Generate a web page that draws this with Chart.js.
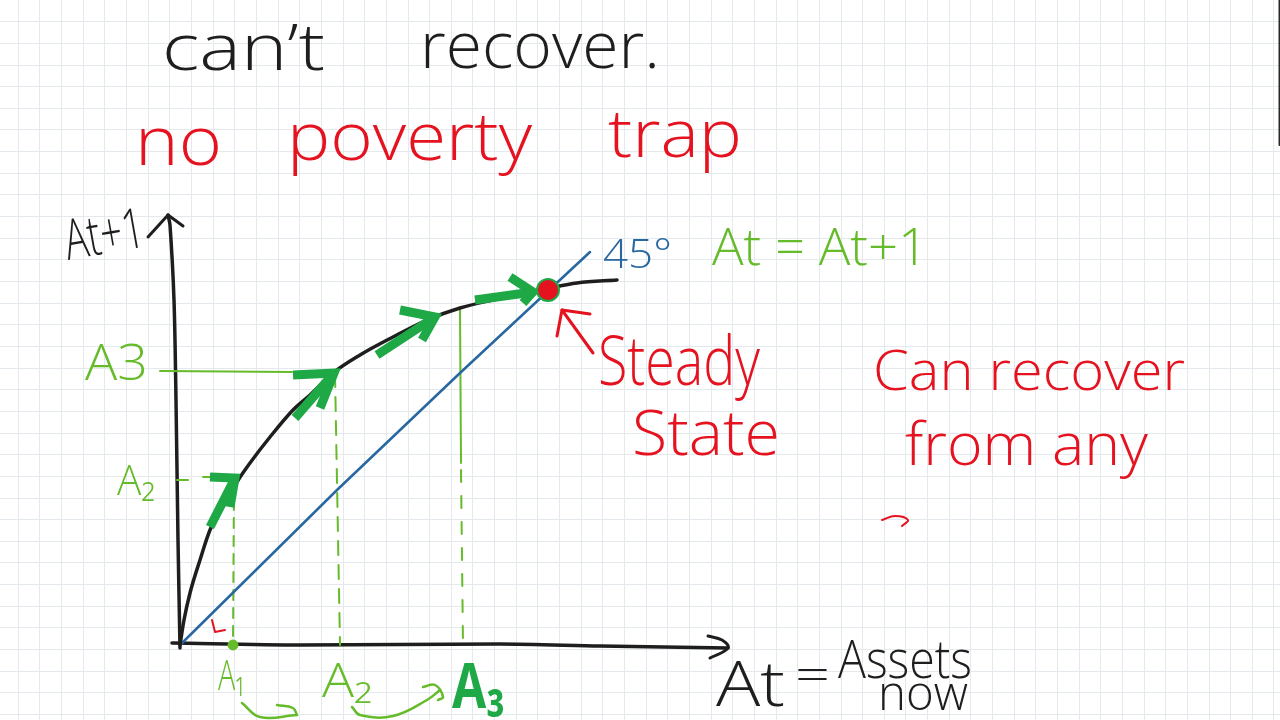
<!DOCTYPE html>
<html lang="en">
<head>
    <meta charset="UTF-8">
    <meta name="viewport" content="width=device-width, initial-scale=1.0">
    <title>No poverty trap</title>
    <style>
        body {
            margin: 0;
            background: #fff;
        }
        #wrap {
            width: 1280px;
            height: 720px;
            position: relative;
        }
    </style>
</head>
<body>
    <div id="wrap"><canvas id="chart"></canvas></div>
    <script src="https://cdn.jsdelivr.net/npm/chart.js"></script>
    <script>
        // units: distance right of / above the origin of the drawn axes
        // A(t+1) as a function of A(t) - the black curve
        const curveX = [0, 4, 10, 20, 30, 47, 57, 70, 90, 113, 130, 153, 180, 213, 247, 280, 313, 347, 370, 397, 437];
        const curveY = [0, 25, 52, 85, 115, 145, 163, 182, 208, 235, 250, 272, 290, 308, 325, 337, 345, 352, 357, 362, 365];

        // 45 degree line
        const lineX = [0, 157, 280, 410];
        const lineY = [0, 155, 272, 393];

        // steady state
        const steadyX = [368];
        const steadyY = [355];

        // A1, A2, A3 on the horizontal axis and where they hit the curve
        const stepX = [54, 155, 280];
        const stepY = [163, 272, 337];
        const xTickLabels = ['A₁', 'A₂', 'A₃'];
        const yTickLabels = ['A3', 'A₂'];

        // green arrows along the curve: shaft start, tip, two barb ends
        const arrowStartX = [30, 115, 197, 295];
        const arrowStartY = [118, 227, 290, 345];
        const arrowTipX = [55, 154, 255, 353];
        const arrowTipY = [167, 272, 328, 353];
        const barbAX = [30, 113, 220, 330];
        const barbAY = [168, 270, 335, 368];
        const barbBX = [50, 140, 242, 343];
        const barbBY = [138, 237, 305, 342];

        const RED = '#e5121f';
        const BLACK = '#1e1e1e';
        const BLUE = '#2867a0';
        const LIME = '#66bb2a';
        const GREEN = '#1fa846';

        // graph paper
        const gridX = [];
        for (let k = 0; k < 60; k++) gridX.push(18.3 + k * 21.65 - 180);
        const gridY = [];
        for (let k = 0; k < 34; k++) gridY.push(645 - (21.7 + k * 21.65));

        function pts(xs, ys) {
            return xs.map((x, i) => ({ x: x, y: ys[i] }));
        }

        function stroke(xs, ys, color, width, extra) {
            return Object.assign({
                data: pts(xs, ys),
                showLine: true,
                borderColor: color,
                backgroundColor: color,
                borderWidth: width,
                pointRadius: 0,
                borderCapStyle: 'round',
                borderJoinStyle: 'round',
                fill: false
            }, extra || {});
        }

        const datasets = [];

        // steady state dot
        datasets.push({
            data: pts(steadyX, steadyY),
            showLine: false,
            pointRadius: 11,
            backgroundColor: RED,
            borderColor: GREEN,
            borderWidth: 2
        });

        // thick green arrows
        arrowTipX.forEach((tx, i) => {
            const ty = arrowTipY[i];
            datasets.push(stroke([arrowStartX[i], tx], [arrowStartY[i], ty], GREEN, 9, { borderCapStyle: 'butt' }));
            datasets.push(stroke([barbAX[i], tx, barbBX[i]], [barbAY[i], ty, barbBY[i]], GREEN, 9,
                { borderCapStyle: 'butt', borderJoinStyle: 'miter' }));
        });

        // curve and 45 degree line
        datasets.push(stroke(curveX, curveY, BLACK, 3.5, { cubicInterpolationMode: 'monotone' }));
        datasets.push(stroke(lineX, lineY, BLUE, 2.5));

        // guides from A1, A2, A3
        datasets.push(stroke([stepX[0], stepX[0] - 1], [stepY[0], 0], LIME, 2, { borderDash: [10, 8] }));
        datasets.push(stroke([stepX[1], stepX[1] + 5], [stepY[1], 0], LIME, 2, { borderDash: [14, 10] }));
        datasets.push(stroke([stepX[2], stepX[2] + 1], [stepY[2], 182], LIME, 2));
        datasets.push(stroke([stepX[2] + 1, stepX[2] + 3], [175, 0], LIME, 2, { borderDash: [12, 14] }));
        datasets.push(stroke([-20, 112], [274, 273], LIME, 2));
        datasets.push(stroke([133, 147], [273, 273], LIME, 2));
        datasets.push(stroke([-3, 8], [165, 165], LIME, 2));
        datasets.push(stroke([23, 55], [168, 168], LIME, 2));
        datasets.push({
            data: pts([stepX[0] - 1], [0]),
            showLine: false,
            pointRadius: 5,
            backgroundColor: LIME,
            borderColor: LIME
        });

        // curly arrows under the axis
        datasets.push(stroke([62, 80, 117], [-58, -72, -70], LIME, 2.5, { tension: 0.4 }));
        datasets.push(stroke([97, 113, 117], [-60, -63, -70], LIME, 2.5, { tension: 0.4 }));
        datasets.push(stroke([172, 180, 213, 247, 260], [-62, -70, -71, -55, -45], LIME, 2.5, { tension: 0.4 }));
        datasets.push(stroke([243, 255, 263, 258], [-42, -40, -52, -55], LIME, 2.5, { tension: 0.4 }));

        // red pointer to the steady state
        datasets.push(stroke([413, 382], [292, 335], RED, 3));
        datasets.push(stroke([377, 382, 410], [309, 335, 331], RED, 3));
        // little red marks
        datasets.push(stroke([32, 35, 45], [25, 13, 15], RED, 2));
        datasets.push(stroke([702, 715, 728, 722], [125, 129, 125, 119], RED, 2, { tension: 0.4 }));

        // axes
        datasets.push(stroke([0, -2, -4, -6, -10, -12], [-3, 105, 245, 345, 420, 430], BLACK, 3.5, { tension: 0.3 }));
        datasets.push(stroke([-32, -12, 3], [408, 430, 419], BLACK, 3));
        datasets.push(stroke([-8, 120, 320, 420, 548], [2, 0, 1, -1, -3], BLACK, 3.5, { tension: 0.3 }));
        datasets.push(stroke([528, 542, 548, 530], [9, 5, -3, -13], BLACK, 3, { tension: 0.4 }));

        // dark edge of the video frame on the right
        datasets.push(stroke([1099.5, 1099.5], [645, 500], '#2a2a2a', 2, { borderCapStyle: 'butt' }));

        // handwritten notes: x0..x1 span, baseline, font size
        const notes = [
            { text: 'can’t', x0: -18, x1: 145, base: 575, size: 64, color: BLACK },
            { text: 'recover.', x0: 240, x1: 480, base: 577, size: 64, color: BLACK },
            { text: 'no', x0: -45, x1: 42, base: 480, size: 68, color: RED },
            { text: 'poverty', x0: 107, x1: 352, base: 485, size: 66, color: RED },
            { text: 'trap', x0: 428, x1: 562, base: 488, size: 66, color: RED },
            { text: 'At+1', x0: -112, x1: -32, base: 385, size: 56, color: BLACK, rot: -10 },
            { text: '45°', x0: 423, x1: 492, base: 377, size: 40, color: BLUE },
            { text: 'At = At+1', x0: 532, x1: 748, base: 380, size: 52, color: LIME },
            { text: 'Steady', x0: 418, x1: 580, base: 260, size: 68, color: RED },
            { text: 'State', x0: 452, x1: 600, base: 190, size: 63, color: RED },
            { text: 'Can recover', x0: 693, x1: 1005, base: 255, size: 56, color: RED },
            { text: 'from any', x0: 725, x1: 968, base: 180, size: 58, color: RED },
            { text: 'At', x0: 536, x1: 605, base: -61, size: 62, color: BLACK },
            { text: '=', x0: 615, x1: 650, base: -46, size: 46, color: BLACK },
            { text: 'Assets', x0: 658, x1: 792, base: -33, size: 54, color: BLACK },
            { text: 'now', x0: 698, x1: 788, base: -65, size: 48, color: BLACK },
            { text: xTickLabels[0], x0: 38, x1: 65, base: -45, size: 42, color: LIME },
            { text: xTickLabels[1], x0: 142, x1: 192, base: -52, size: 48, color: LIME },
            { text: xTickLabels[2], x0: 272, x1: 325, base: -63, size: 62, color: GREEN, weight: 700 },
            { text: yTickLabels[0], x0: -95, x1: -32, base: 265, size: 50, color: LIME },
            { text: yTickLabels[1], x0: -63, x1: -25, base: 150, size: 42, color: LIME }
        ];

        const notesPlugin = {
            id: 'notes',
            afterDatasetsDraw(chart) {
                const ctx = chart.ctx;
                const sx = chart.scales.x;
                const sy = chart.scales.y;
                notes.forEach(n => {
                    const x0 = sx.getPixelForValue(n.x0);
                    const x1 = sx.getPixelForValue(n.x1);
                    const y = sy.getPixelForValue(n.base);
                    ctx.save();
                    ctx.font = (n.weight || 300) + ' ' + n.size + 'px "Open Sans", "DejaVu Sans", sans-serif';
                    ctx.fillStyle = n.color;
                    ctx.textBaseline = 'alphabetic';
                    const w = ctx.measureText(n.text).width;
                    ctx.translate(x0, y);
                    if (n.rot) ctx.rotate(n.rot * Math.PI / 180);
                    ctx.scale((x1 - x0) / w, 1);
                    ctx.fillText(n.text, 0, 0);
                    ctx.restore();
                });
            }
        };

        const ctx = document.getElementById('chart').getContext('2d');
        const myChart = new Chart(ctx, {
            type: 'scatter',
            data: { datasets: datasets },
            options: {
                responsive: true,
                maintainAspectRatio: false,
                animation: false,
                layout: { padding: 0, autoPadding: false },
                plugins: {
                    legend: { display: false },
                    tooltip: { enabled: false }
                },
                scales: {
                    x: {
                        type: 'linear',
                        min: -180,
                        max: 1100,
                        afterBuildTicks: s => { s.ticks = gridX.map(v => ({ value: v })); },
                        ticks: { display: false },
                        grid: { color: '#e3e9ec', lineWidth: 1, drawTicks: false },
                        border: { display: false }
                    },
                    y: {
                        type: 'linear',
                        min: -75,
                        max: 645,
                        afterBuildTicks: s => { s.ticks = gridY.map(v => ({ value: v })); },
                        ticks: { display: false },
                        grid: { color: '#e3e9ec', lineWidth: 1, drawTicks: false },
                        border: { display: false }
                    }
                }
            },
            plugins: [notesPlugin]
        });
    </script>
</body>
</html>
